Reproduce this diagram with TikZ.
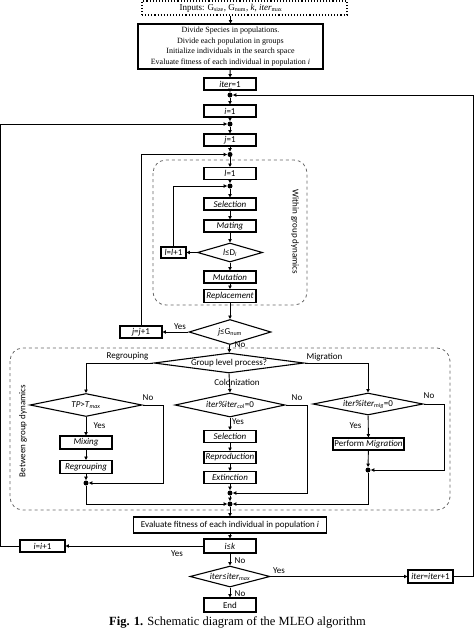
\documentclass[tikz,border=0pt]{standalone}
\usepackage{fontspec}
\setmainfont{Liberation Serif}
\newfontfamily\calib{Carlito}
\usetikzlibrary{arrows.meta,shapes.geometric,calc}
\begin{document}
\begin{tikzpicture}[x=1pt,y=-1pt,
  >={Triangle[length=3.4pt,width=3.4pt]},
  every path/.append style={line width=0.9pt},
  box/.style={draw, line width=1.1pt, minimum width=52pt, minimum height=12pt, inner sep=0.5pt, font=\calib\fontsize{9}{10}\selectfont},
  dec/.style={draw, diamond, line width=1.1pt, inner sep=-1pt, font=\calib\fontsize{9}{10}\selectfont},
  dot/.style={circle, fill, inner sep=0pt, minimum size=5pt},
  lab/.style={font=\calib\fontsize{9}{10}\selectfont, inner sep=0pt},
  grp/.style={draw=black!60, dashed, line width=0.8pt, rounded corners=13pt},
]
\useasboundingbox (0,0) rectangle (474,630);

% group frames
\draw[grp] (153,160) rectangle (307,305);
\draw[grp] (10,348) rectangle (450,510);
\node[lab, rotate=-90] (wgd) at (295,232) {Within group dynamics};
\node[lab, rotate=90] (bgd) at (23,431) {Between group dynamics};

% top
\node[draw, dotted, line width=1.1pt, minimum width=205pt, minimum height=14pt] (inpbox) at (244.5,8) {};
\node[font=\fontsize{9}{10}\selectfont, inner sep=0pt] (inp) at (231,8)
  {Inputs: G\textsubscript{size}, G\textsubscript{num}, \textit{k}, \textit{iter}\textsubscript{max}};
\node[box, minimum width=185pt, minimum height=45pt, align=center, font=\fontsize{8}{10.6}\selectfont] (div) at (230.5,46.5)
  {Divide Species in populations.\\Divide each population in groups\\Initialize individuals in the search space\\Evaluate fitness of each individual in population \textit{i}};
\node[box] (it1) at (230,84) {\textit{iter}=1};
\node[dot] (m1) at (230,95) {};
\node[box] (i1) at (230,111) {\textit{i}=1};
\node[dot] (m2) at (230,124) {};
\node[box] (j1) at (230,140) {\textit{j}=1};
\node[dot] (m3) at (230,154.5) {};

% within group
\node[box] (l1) at (230,173.5) {\textit{l}=1};
\node[dot] (m4) at (230,186) {};
\node[box] (sel1) at (230,204) {\textit{Selection}};
\node[box] (mat) at (230,226) {\textit{Mating}};
\node[dec, minimum width=65pt, minimum height=19pt, aspect=3.4] (d1) at (230,252.5) {\textit{l}≤D\textsubscript{\textit{i}}};
\node[box, minimum width=25pt, minimum height=11pt] (ll) at (173.5,252.5) {\textit{l}=\textit{l}+1};
\node[box] (mut) at (230,277) {\textit{Mutation}};
\node[box, minimum height=13pt] (rep) at (230,296) {\textit{Replacement}};
\node[dec, minimum width=82pt, minimum height=25pt, aspect=3.3] (d2) at (230,332) {\textit{j}≤G\textsubscript{num}};
\node[box, minimum width=42pt] (jj) at (141,332) {\textit{j}=\textit{j}+1};

% between group
\node[dec, minimum width=150pt, minimum height=20pt, aspect=7.5] (grp) at (229,363) {Group level process?};
\node[dec, minimum width=112pt, minimum height=23pt, aspect=4.9] (tp) at (86,405) {\textit{TP}>\textit{T}\textsubscript{\textit{max}}};
\node[box, minimum height=13pt] (mix) at (86,442.5) {\textit{Mixing}};
\node[box, minimum height=13pt] (regr) at (86,467) {\textit{Regrouping}};
\node[dot] (m5) at (86,483) {};
\node[dec, minimum width=110pt, minimum height=24pt, aspect=4.6] (col) at (230,405) {\textit{iter\%iter}\textsubscript{\textit{col}}=0};
\node[box] (sel2) at (230,436.5) {\textit{Selection}};
\node[box] (rep2) at (230,457.5) {\textit{Reproduction}};
\node[box] (ext) at (230,477.5) {\textit{Extinction}};
\node[dot] (m6) at (230,493) {};
\node[dec, minimum width=110pt, minimum height=22pt, aspect=5] (mig) at (368,404) {\textit{iter\%iter}\textsubscript{\textit{mig}}=0};
\node[box, minimum width=71pt] (pm) at (368.5,444) {Perform \textit{Migration}};
\node[dot] (m8) at (368,470) {};
\node[dot] (m7) at (230,504) {};

% bottom
\node[box, minimum width=193pt, minimum height=16pt] (eval) at (230,525) {Evaluate fitness of each individual in population \textit{i}};
\node[box, minimum height=14pt] (ik) at (230,546) {\textit{i}≤\textit{k}};
\node[box, minimum width=45pt] (ii) at (42.5,546) {\textit{i}=\textit{i}+1};
\node[dec, minimum width=80pt, minimum height=21pt, aspect=3.8] (d3) at (230,576.5) {\textit{iter}≤\textit{iter}\textsubscript{\textit{max}}};
\node[box, minimum width=45pt, minimum height=13pt] (itit) at (430.5,576.5) {\textit{iter}=\textit{iter}+1};
\node[box, minimum height=14pt] (end) at (230,605) {End};
\node[font=\fontsize{12.5}{14}\selectfont, inner sep=0pt] (cap) at (237.5,622) {\textbf{Fig. 1.} Schematic diagram of the MLEO algorithm};

% coordinates
\coordinate (cR) at (473,95);
\coordinate (cL) at (0.8,124);
\coordinate (c5) at (163,405);
\coordinate (c6) at (307,405);
\coordinate (c8) at (444,404);

% connectors top
\draw[->] (inpbox.south -| div.north) -- (div.north);
\draw[->] (div) -- (it1);
\draw[->] (it1) -- (m1);
\draw[->] (m1) -- (i1);
\draw[->] (i1) -- (m2);
\draw[->] (m2) -- (j1);
\draw[->] (j1) -- (m3);
\draw[->] (m3) -- (l1);
\draw[->] (l1) -- (m4);
\draw[->] (m4) -- (sel1);
\draw[->] (sel1) -- (mat);
\draw[->] (mat) -- (d1);
\draw[->] (d1) -- (mut);
\draw[->] (mut) -- (rep);
\draw[->] (rep) -- (d2);
\draw[->] (d1.west) -- (ll.east);
\draw[->] (ll.north) |- (m4);
\draw[->] (d2.west) -- (jj.east);
\draw[->] (jj.north) |- (m3);
\draw[->] (d2) -- (grp);
\node[lab] (yes1) at (180,327) {Yes};
\node[lab] (no1) at (240,345) {No};

% between connectors
\draw[->] (grp.west) -| (tp.north);
\draw[->] (grp.south) -- (col.north);
\draw[->] (grp.east) -| (mig.north);
\node[lab] (lregr) at (127.5,356) {Regrouping};
\node[lab] (lcol) at (237,382) {Colonization};
\node[lab] (lmig) at (324.5,357) {Migration};

\draw[->] (tp) -- (mix);
\draw[->] (mix) -- (regr);
\draw[->] (regr) -- (m5);
\draw[->] (tp.east) -- (c5) |- (m5);
\draw[->] (m5) |- (m7);
\node[lab] (no2) at (148,398) {No};
\node[lab] (yes2) at (99.5,426) {Yes};

\draw[->] (col) -- (sel2);
\draw[->] (sel2) -- (rep2);
\draw[->] (rep2) -- (ext);
\draw[->] (ext) -- (m6);
\draw[->] (col.east) -- (c6) |- (m6);
\draw[->] (m6) -- (m7);
\node[lab] (no3) at (297,398) {No};
\node[lab] (yes3) at (238,422) {Yes};

\draw[->] (mig) -- (pm);
\draw[->] (pm) -- (m8);
\draw[->] (mig.east) -- (c8) |- (m8);
\draw[->] (m8) |- (m7);
\node[lab] (no4) at (429,396) {No};
\node[lab] (yes4) at (355.5,426) {Yes};

% bottom connectors
\draw[->] (m7) -- (eval);
\draw[->] (eval) -- (ik);
\draw[->] (ik.west) -- (ii.east);
\draw[->] (ii.west) -| (cL) -- (m2);
\draw[->] (ik) -- (d3);
\draw[->] (d3.east) -- (itit.west);
\draw[->] (itit.east) -| (cR) -- (m1);
\draw[->] (d3) -- (end);
\node[lab] (yes5) at (177,553.5) {Yes};
\node[lab] (no5) at (240,561) {No};
\node[lab] (yes6) at (279,571) {Yes};
\node[lab] (no6) at (240,594) {No};
\end{tikzpicture}
\end{document}
